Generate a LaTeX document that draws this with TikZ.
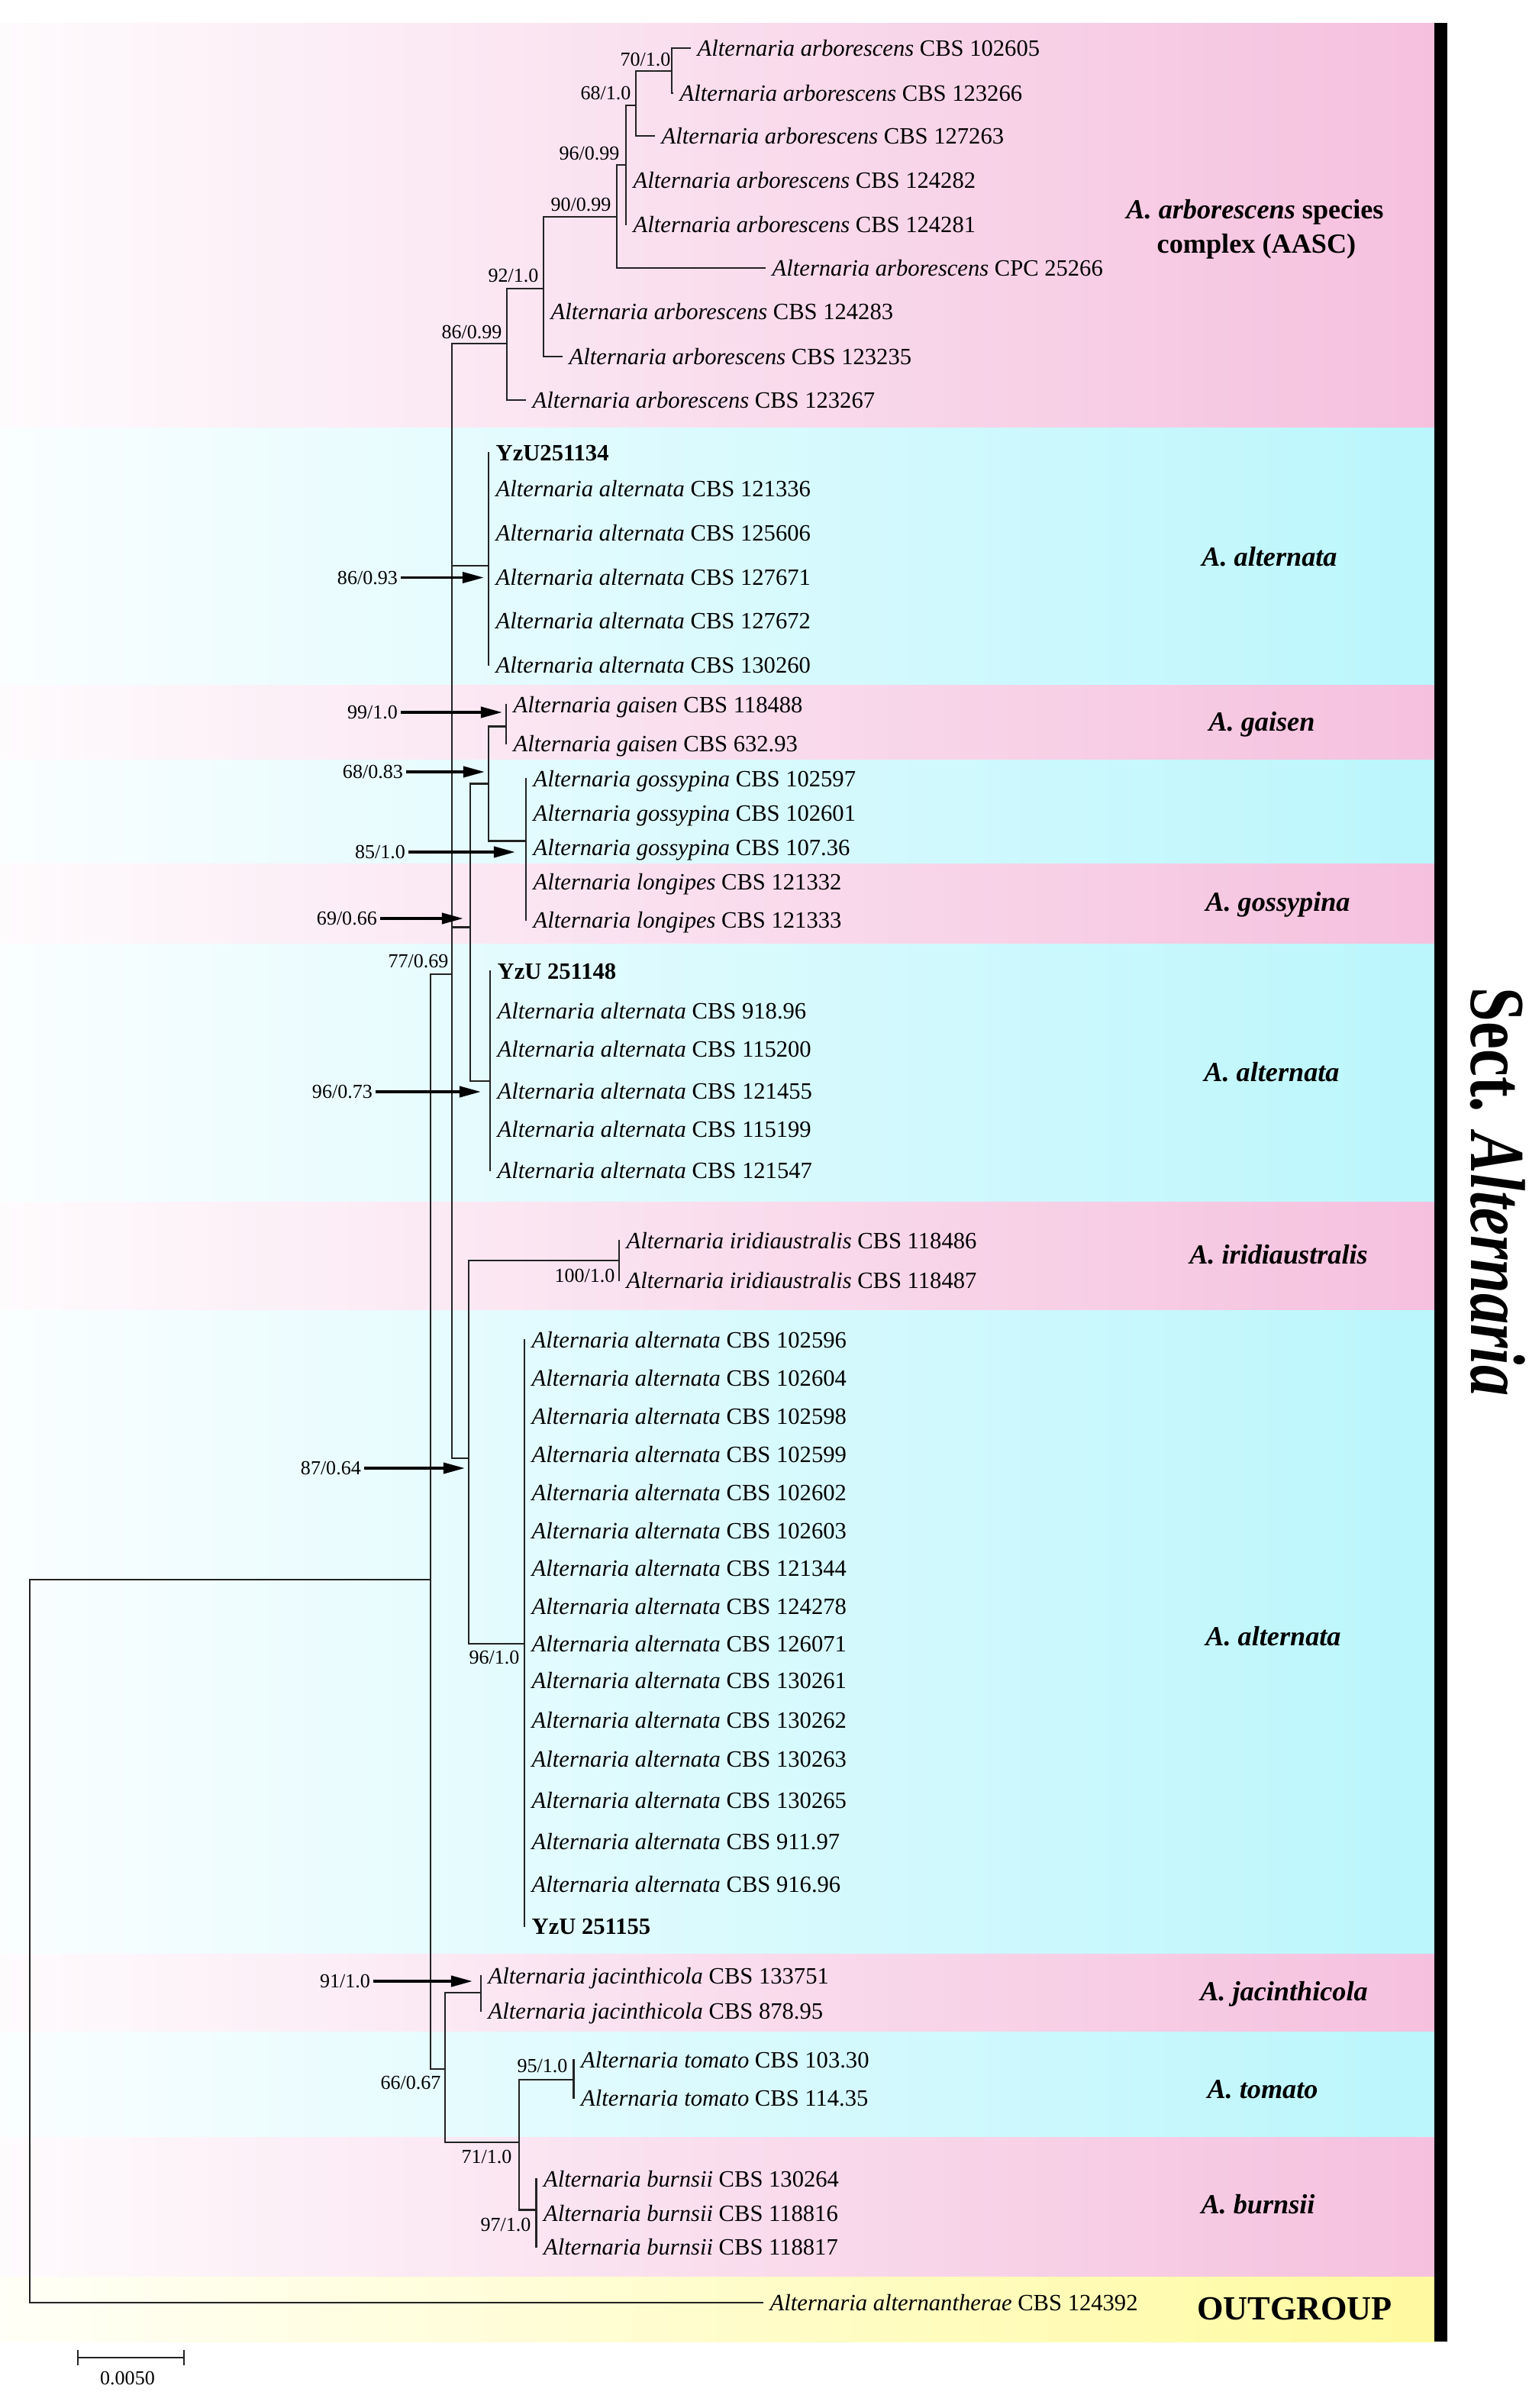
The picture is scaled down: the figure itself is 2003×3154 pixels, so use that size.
\documentclass[tikz,border=0pt]{standalone}
\usepackage{fontspec}
\setmainfont{Liberation Serif}
\usetikzlibrary{arrows.meta}
\definecolor{pinkR}{RGB}{245,192,222}
\definecolor{pinkL}{RGB}{254,251,253}
\definecolor{cyanR}{RGB}{186,246,252}
\definecolor{cyanL}{RGB}{250,254,255}
\definecolor{yelR}{RGB}{255,250,160}
\definecolor{yelL}{RGB}{255,255,247}
\definecolor{branchc}{RGB}{35,35,35}
\newcommand{\AltArb}{\textit{Alternaria arborescens}}
\newcommand{\AltAlt}{\textit{Alternaria alternata}}
\tikzset{
  branch/.style={draw=branchc, line width=0.8pt, line cap=rect},
  leaf/.style={anchor=west, inner xsep=2.56pt, inner ysep=0pt, text height=6.1pt, text depth=0pt, font=\fontsize{8.7}{10}\selectfont},
  supp/.style={anchor=east, inner sep=0pt, text height=5pt, text depth=0pt, font=\fontsize{7.4}{9}\selectfont},
  alab/.style={anchor=east, inner xsep=1pt, inner ysep=0pt, text height=5pt, text depth=0pt, font=\fontsize{7.4}{9}\selectfont},
  ptr/.style={draw=black, line width=1.1pt, -{Triangle[length=8pt,width=4pt]}},
  clade/.style={inner sep=0pt, text height=6.8pt, text depth=0pt, font=\fontsize{10.3}{13}\selectfont\bfseries},
  pinkband/.style={left color=pinkL, right color=pinkR},
  cyanband/.style={left color=cyanL, right color=cyanR},
  yelband/.style={left color=yelL, right color=yelR}
}
\begin{document}
\begin{tikzpicture}[x=0.01cm,y=-0.01cm]
\useasboundingbox (0,0) rectangle (2003,3154);
\fill[white] (0,0) rectangle (2003,3154);
% ---------- background bands ----------
\shade[pinkband] (0,30) rectangle (1879,560);
\shade[cyanband] (0,560) rectangle (1879,897);
\shade[pinkband] (0,897) rectangle (1879,995);
\shade[cyanband] (0,995) rectangle (1879,1131);
\shade[pinkband] (0,1131) rectangle (1879,1236);
\shade[cyanband] (0,1236) rectangle (1879,1574);
\shade[pinkband] (0,1574) rectangle (1879,1716);
\shade[cyanband] (0,1716) rectangle (1879,2559);
\shade[pinkband] (0,2559) rectangle (1879,2661);
\shade[cyanband] (0,2661) rectangle (1879,2799);
\shade[pinkband] (0,2799) rectangle (1879,2982);
\shade[yelband] (0,2982) rectangle (1879,3067);
\fill[black] (1879,30) rectangle (1896,3067);
% ---------- internal nodes ----------
\coordinate (root) at (39,2542);
\coordinate (n564) at (564,2069);
\coordinate (n592) at (592,1276);
\coordinate (n664) at (664,450);
\coordinate (n712) at (712,378);
\coordinate (n808) at (808,284);
\coordinate (n820) at (820,216);
\coordinate (n833) at (833,138);
\coordinate (n880) at (880,93);
\coordinate (n640a) at (640,741);
\coordinate (n616) at (616,1214.5);
\coordinate (n640b) at (640,1026.6);
\coordinate (n663) at (663,951.5);
\coordinate (n689) at (689,1101.6);
\coordinate (n642) at (642,1416);
\coordinate (n614) at (614,1910);
\coordinate (n811) at (811,1651);
\coordinate (n687) at (687,2153);
\coordinate (n583) at (583,2710);
\coordinate (n630) at (630,2610);
\coordinate (n680) at (680,2806);
\coordinate (n751) at (751.5,2724);
\coordinate (n702) at (702.5,2894.5);
% ---------- leaves ----------
\node[leaf] (a1) at (904,63) {\AltArb{} CBS 102605};
\node[leaf] (a2) at (881,122) {\AltArb{} CBS 123266};
\node[leaf] (a3) at (857,178) {\AltArb{} CBS 127263};
\node[leaf] (a4) at (820,236) {\AltArb{} CBS 124282};
\node[leaf] (a5) at (820,294) {\AltArb{} CBS 124281};
\node[leaf] (a6) at (1002,351) {\AltArb{} CPC 25266};
\node[leaf] (a7) at (712,408) {\AltArb{} CBS 124283};
\node[leaf] (a8) at (736,467) {\AltArb{} CBS 123235};
\node[leaf] (a9) at (688,524) {\AltArb{} CBS 123267};
\node[leaf] (b1) at (640,593) {\textbf{YzU251134}};
\node[leaf] (b2) at (640,640) {\AltAlt{} CBS 121336};
\node[leaf] (b3) at (640,698) {\AltAlt{} CBS 125606};
\node[leaf] (b4) at (640,756) {\AltAlt{} CBS 127671};
\node[leaf] (b5) at (640,813) {\AltAlt{} CBS 127672};
\node[leaf] (b6) at (640,871) {\AltAlt{} CBS 130260};
\node[leaf] (c1) at (663,923) {\textit{Alternaria gaisen} CBS 118488};
\node[leaf] (c2) at (663,974) {\textit{Alternaria gaisen} CBS 632.93};
\node[leaf] (d1) at (689,1020) {\textit{Alternaria gossypina} CBS 102597};
\node[leaf] (d2) at (689,1065) {\textit{Alternaria gossypina} CBS 102601};
\node[leaf] (d3) at (689,1110) {\textit{Alternaria gossypina} CBS 107.36};
\node[leaf] (d4) at (689,1155) {\textit{Alternaria longipes} CBS 121332};
\node[leaf] (d5) at (689,1205) {\textit{Alternaria longipes} CBS 121333};
\node[leaf] (e1) at (642,1272) {\textbf{YzU 251148}};
\node[leaf] (e2) at (642,1324) {\AltAlt{} CBS 918.96};
\node[leaf] (e3) at (642,1374) {\AltAlt{} CBS 115200};
\node[leaf] (e4) at (642,1429) {\AltAlt{} CBS 121455};
\node[leaf] (e5) at (642,1479) {\AltAlt{} CBS 115199};
\node[leaf] (e6) at (642,1533) {\AltAlt{} CBS 121547};
\node[leaf] (f1) at (811,1625) {\textit{Alternaria iridiaustralis} CBS 118486};
\node[leaf] (f2) at (811,1677) {\textit{Alternaria iridiaustralis} CBS 118487};
\node[leaf] (g1) at (687,1755) {\AltAlt{} CBS 102596};
\node[leaf] (g2) at (687,1805) {\AltAlt{} CBS 102604};
\node[leaf] (g3) at (687,1855) {\AltAlt{} CBS 102598};
\node[leaf] (g4) at (687,1905) {\AltAlt{} CBS 102599};
\node[leaf] (g5) at (687,1955) {\AltAlt{} CBS 102602};
\node[leaf] (g6) at (687,2005) {\AltAlt{} CBS 102603};
\node[leaf] (g7) at (687,2054) {\AltAlt{} CBS 121344};
\node[leaf] (g8) at (687,2104) {\AltAlt{} CBS 124278};
\node[leaf] (g9) at (687,2153) {\AltAlt{} CBS 126071};
\node[leaf] (g10) at (687,2201) {\AltAlt{} CBS 130261};
\node[leaf] (g11) at (687,2253) {\AltAlt{} CBS 130262};
\node[leaf] (g12) at (687,2304) {\AltAlt{} CBS 130263};
\node[leaf] (g13) at (687,2358) {\AltAlt{} CBS 130265};
\node[leaf] (g14) at (687,2412) {\AltAlt{} CBS 911.97};
\node[leaf] (g15) at (687,2468) {\AltAlt{} CBS 916.96};
\node[leaf] (g16) at (687,2523) {\textbf{YzU 251155}};
\node[leaf] (h1) at (630,2588) {\textit{Alternaria jacinthicola} CBS 133751};
\node[leaf] (h2) at (630,2634) {\textit{Alternaria jacinthicola} CBS 878.95};
\node[leaf] (i1) at (751.5,2698) {\textit{Alternaria tomato} CBS 103.30};
\node[leaf] (i2) at (751.5,2748) {\textit{Alternaria tomato} CBS 114.35};
\node[leaf] (j1) at (702.5,2854) {\textit{Alternaria burnsii} CBS 130264};
\node[leaf] (j2) at (702.5,2899) {\textit{Alternaria burnsii} CBS 118816};
\node[leaf] (j3) at (702.5,2943) {\textit{Alternaria burnsii} CBS 118817};
\node[leaf] (og) at (999,3016) {\textit{Alternaria alternantherae} CBS 124392};
% ---------- branches ----------
\draw[branch] (a1.west) -| (n880 |- a2.west) -- (a2.west);
\draw[branch] (n880) -| (n833 |- a3.west) -- (a3.west);
\draw[branch] (n833) -| (n820 |- a5.west) -- (a5.west);
\draw[branch] (n808) -| (n712 |- a8.west) -- (a8.west);
\draw[branch] (n820) -| (n808 |- a6.west) -- (a6.west);
\draw[branch] (n712) -| (n664 |- a9.west) -- (a9.west);
\draw[branch] (n664) -| (n592 |- n614) -- (n614);
\draw[branch] (n592 |- n640a) -- (n640a);
\draw[branch] (n592 |- n616) -- (n616);
\draw[branch] (b1.west) -- (b6.west);
\draw[branch] (n640b) -| (n616 |- n642) -- (n642);
\draw[branch] (n663) -| (n640b |- n689) -- (n689);
\draw[branch] (c1.west) -- (c2.west);
\draw[branch] (d1.west) -- (d5.west);
\draw[branch] (e1.west) -- (e6.west);
\draw[branch] (n811) -| (n614 |- n687) -- (n687);
\draw[branch] (f1.west) -- (f2.west);
\draw[branch] (g1.west) -- (g16.west);
\draw[branch] (n592) -| (n564 |- n583) -- (n583);
\draw[branch] (n564) -| (root |- og.west) -- (og.west);
\draw[branch] (n630) -| (n583 |- n680) -- (n680);
\draw[branch] (h1.west) -- (h2.west);
\draw[branch] (n751) -| (n680 |- n702) -- (n702);
\draw[branch] (i1.west) -- (i2.west);
\draw[branch] (j1.west) -- (j3.west);
% ---------- support values ----------
\node[supp] (s1) at (879,78) {70/1.0};
\node[supp] (s2) at (827,121.5) {68/1.0};
\node[supp] (s3) at (812,201) {96/0.99};
\node[supp] (s4) at (801,268) {90/0.99};
\node[supp] (s5) at (706,361) {92/1.0};
\node[supp] (s6) at (658,435) {86/0.99};
\node[supp] (s7) at (588,1259) {77/0.69};
\node[supp] (s8) at (806,1671) {100/1.0};
\node[supp] (s9) at (681,2171) {96/1.0};
\node[supp] (s10) at (578,2728) {66/0.67};
\node[supp] (s11) at (744,2706) {95/1.0};
\node[supp] (s12) at (671,2825) {71/1.0};
\node[supp] (s13) at (696,2914) {97/1.0};
% ---------- pointer labels ----------
\node[alab] (p1) at (525,756.5) {86/0.93};
\coordinate (t1) at (634,756.5);
\node[alab] (p2) at (525,933) {99/1.0};
\coordinate (t2) at (658,933);
\node[alab] (p3) at (532,1011) {68/0.83};
\coordinate (t3) at (635,1011);
\node[alab] (p4) at (535,1116) {85/1.0};
\coordinate (t4) at (675,1116);
\node[alab] (p5) at (498,1203) {69/0.66};
\coordinate (t5) at (607,1203);
\node[alab] (p6) at (492,1430) {96/0.73};
\coordinate (t6) at (630,1430);
\node[alab] (p7) at (477,1923) {87/0.64};
\coordinate (t7) at (609,1923);
\node[alab] (p8) at (489,2595) {91/1.0};
\coordinate (t8) at (619,2595);
\foreach \k in {1,...,8} {\draw[ptr] (p\k.east) -- (t\k);}
% ---------- clade labels ----------
\node[clade] (k1a) at (1644,275) {\textit{A. arborescens} species};
\node[clade] (k1b) at (1646,320) {complex (AASC)};
\node[clade] (k2) at (1663,730) {\textit{A. alternata}};
\node[clade] (k3) at (1653,946) {\textit{A. gaisen}};
\node[clade] (k4) at (1674,1182) {\textit{A. gossypina}};
\node[clade] (k5) at (1666,1405) {\textit{A. alternata}};
\node[clade] (k6) at (1675,1644) {\textit{A. iridiaustralis}};
\node[clade] (k7) at (1668,2144) {\textit{A. alternata}};
\node[clade] (k8) at (1682,2609) {\textit{A. jacinthicola}};
\node[clade] (k9) at (1654,2737) {\textit{A. tomato}};
\node[clade] (k10) at (1648,2888) {\textit{A. burnsii}};
\node[inner sep=0pt, text height=8.3pt, text depth=0pt, font=\fontsize{12.6}{15}\selectfont\bfseries] (k11) at (1696,3024) {OUTGROUP};
% ---------- section label ----------
\node[rotate=-90, anchor=base west, inner sep=0pt, font=\fontsize{29}{32}\selectfont\bfseries] (sect) at (1927,1293) {\scalebox{0.79}[1]{Sect. \textit{Alternaria}}};
% ---------- scale bar ----------
\coordinate (sb1) at (102,3088);
\coordinate (sb2) at (241,3088);
\draw[line width=0.8pt, draw=branchc] (sb1) -- (sb2);
\draw[line width=0.8pt, draw=branchc] (sb1) ++(0,-10) -- ++(0,20);
\draw[line width=0.8pt, draw=branchc] (sb2) ++(0,-10) -- ++(0,20);
\node[supp, anchor=center] (sbl) at (167,3115) {0.0050};
\end{tikzpicture}
\end{document}
